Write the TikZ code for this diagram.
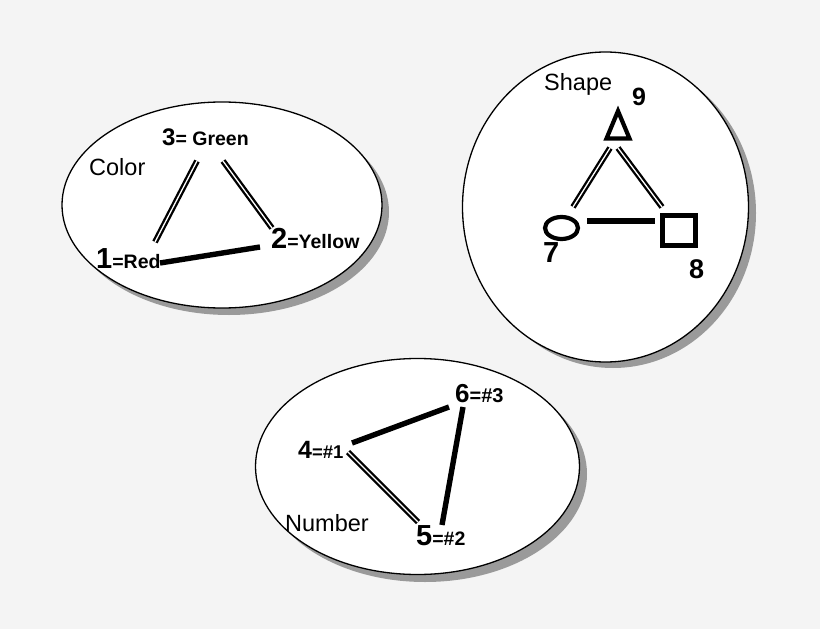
\documentclass[tikz,border=0pt]{standalone}
\usepackage{fontspec}
\setmainfont{Liberation Sans}
\usetikzlibrary{shapes.geometric}
\definecolor{bg}{HTML}{F4F4F4}
\definecolor{shadowgray}{HTML}{9A9A9A}
\newcommand{\fs}[1]{\fontsize{#1}{#1}\selectfont}
\begin{document}
\begin{tikzpicture}[x=1pt,y=-1pt,
  oval/.style={draw=black, line width=1.3pt, fill=white},
  ovalshadow/.style={fill=shadowgray},
  dbl/.style={draw=black, line width=2.3pt, double=white, double distance=1.3pt},
  heavy/.style={draw=black, line width=5.4pt},
  lbl/.style={anchor=base west, inner sep=0pt, font=\fs{23.5}},
  nlbl/.style={anchor=base west, inner sep=0pt, font=\bfseries}]
\path[fill=bg] (0,0) rectangle (820,629);
\useasboundingbox (0,0) rectangle (820,629);
% shadows
\fill[ovalshadow] (229,212) ellipse [x radius=160pt, y radius=103pt];
\fill[ovalshadow] (613,213) ellipse [x radius=143pt, y radius=155pt];
\fill[ovalshadow] (425,474) ellipse [x radius=162pt, y radius=108pt];
% ovals
\draw[oval] (222,205) ellipse [x radius=160pt, y radius=103pt];
\draw[oval] (605.5,207) ellipse [x radius=143pt, y radius=155pt];
\draw[oval] (417.5,466.5) ellipse [x radius=162pt, y radius=108pt];

% ---- Color ----
\node[lbl] (color) at (89,175) {Color};
\node[nlbl] (n3) at (162,145) {\fs{24}3\fs{19.5}= Green};
\node[nlbl] (n1) at (96,268) {\fs{29}1\fs{19.5}=Red};
\node[nlbl] (n2) at (271,248) {\fs{29}2\fs{19.5}=Yellow};
\coordinate (c3l) at (197,161);
\coordinate (c1t) at (155,242);
\coordinate (c3r) at (223,161);
\coordinate (c2t) at (272,228);
\coordinate (c1r) at (160,263);
\coordinate (c2l) at (260,247);
\draw[dbl] (c3l) -- (c1t);
\draw[dbl] (c3r) -- (c2t);
\draw[heavy] (c1r) -- (c2l);

% ---- Shape ----
\node[lbl] (shape) at (544,90) {Shape};
\node[nlbl] (n9) at (632,105) {\fs{25}9};
\coordinate (tri) at (618,111);
\draw[line width=4.2pt, line join=miter] (tri) -- (606.5,138.5) -- (629.5,138.5) -- cycle;
\node[draw, ellipse, line width=4.2pt, minimum width=33pt, minimum height=22pt, inner sep=0pt] (circ) at (561.5,228) {};
\node[draw, rectangle, line width=5pt, minimum width=33pt, minimum height=30pt, inner sep=0pt] (sq) at (679,230.5) {};
\node[nlbl] (n7) at (543,262) {\fs{29}7};
\node[nlbl] (n8) at (689,278) {\fs{27}8};
\coordinate (tbl) at (610,148);
\coordinate (cirt) at (573,207);
\coordinate (tbr) at (618,148);
\coordinate (sqt) at (662,207);
\coordinate (cirr) at (587,221);
\coordinate (sql) at (655,221);
\draw[dbl] (tbl) -- (cirt);
\draw[dbl] (tbr) -- (sqt);
\draw[heavy] (cirr) -- (sql);

% ---- Number ----
\node[lbl] (number) at (285,531) {Number};
\node[nlbl] (n6) at (455,402) {\fs{26}6\fs{20}=\#3};
\node[nlbl] (n4) at (298,458) {\fs{25}4\fs{18.5}=\#1};
\node[nlbl] (n5) at (416,545) {\fs{29}5\fs{19.5}=\#2};
\coordinate (c4r) at (352,443);
\coordinate (c6l) at (449,407);
\coordinate (c4b) at (348,452);
\coordinate (c5t) at (418,522);
\coordinate (c6b) at (463,407);
\coordinate (c5r) at (442,525);
\draw[heavy] (c4r) -- (c6l);
\draw[dbl] (c4b) -- (c5t);
\draw[heavy] (c6b) -- (c5r);
\end{tikzpicture}
\end{document}
